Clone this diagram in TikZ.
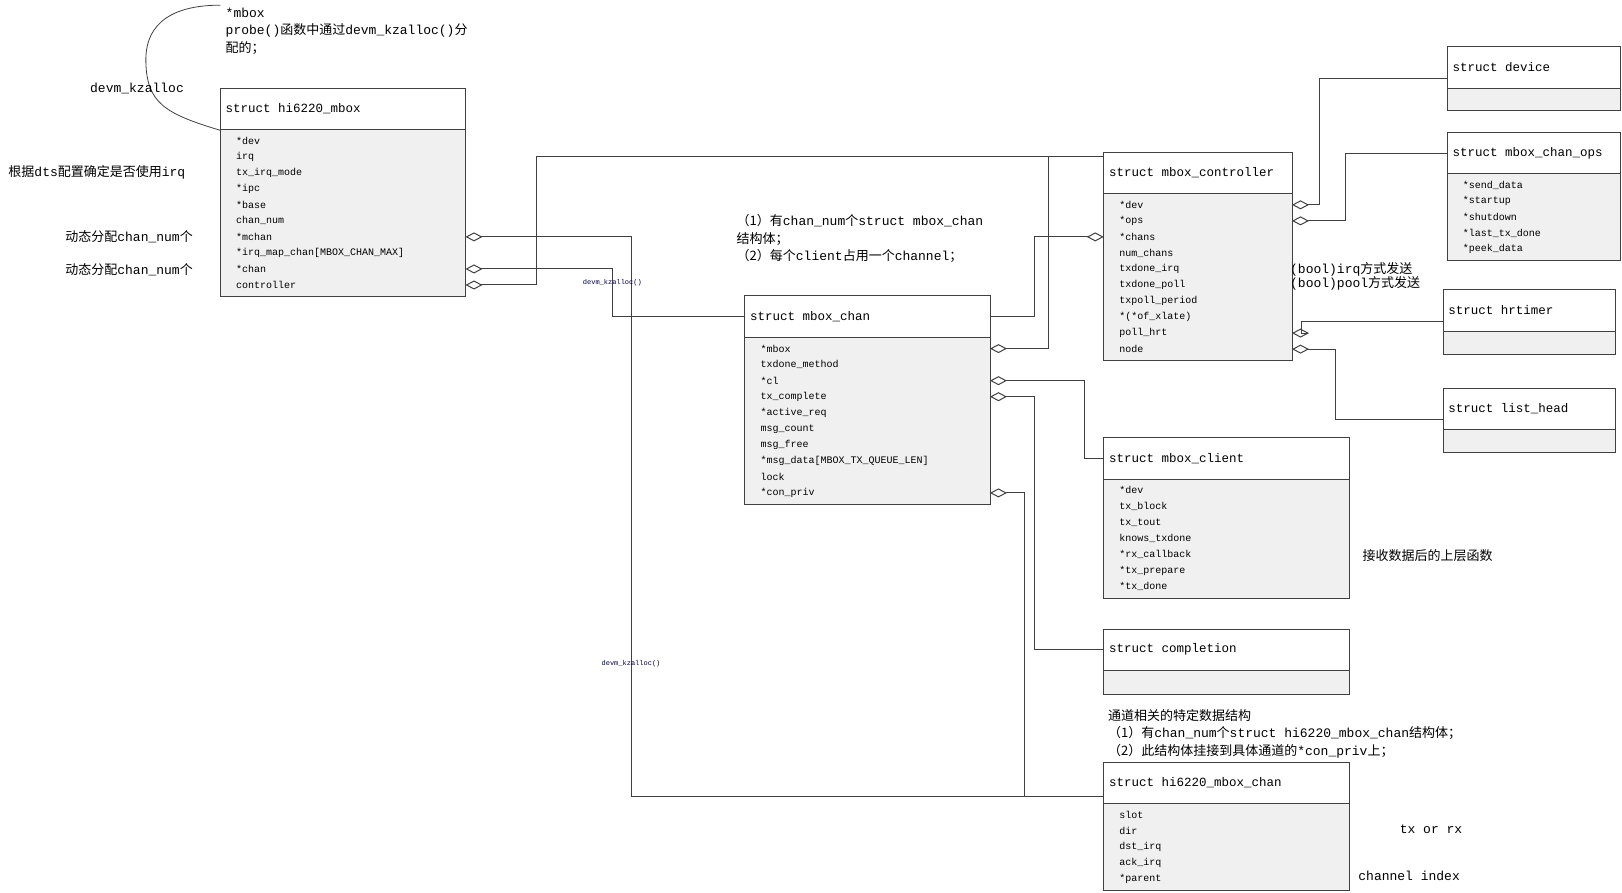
\documentclass[tikz,border=0pt]{standalone}
\usepackage{fontspec}
\setmainfont{Liberation Mono}
\newfontfamily\cjk{Noto Sans CJK SC}
\usetikzlibrary{arrows.meta,calc}

\tikzset{
  hdr/.style={draw=black!75, fill=white, line width=0.8pt},
  bdy/.style={draw=black!75, fill=black!6, line width=0.8pt},
  ttl/.style={anchor=west, font=\fontsize{12.5}{14}\selectfont, inner sep=0pt},
  mem/.style={anchor=west, font=\fontsize{10}{11}\selectfont, inner sep=0pt},
  note/.style={anchor=west, align=left, font=\fontsize{13}{17.5}\selectfont, inner sep=0pt},
  link/.style={draw=black!75, line width=1pt},
  has/.style={link, {Diamond[open,length=17pt,width=9pt]}-},
}

% name, left x, top y, width, body height, title, members
\newcommand\umlstruct[7]{%
  \draw[hdr] (#2,#3) rectangle ++(#4,40);
  \draw[bdy] (#2,#3+40) rectangle ++(#4,#5);
  \coordinate (#1-T) at (#2,#3+20);
  \coordinate (#1-TR) at (#2+#4,#3+20);
  \node[ttl] (#1) at (#2+5,#3+20) {#6};
  \foreach \m [count=\i] in {#7} {
    \node[mem] (#1-m\i) at (#2+15,#3+51+15.5*\i-15.5) {\m};
    \coordinate (#1-L\i) at (#2,#3+51+15.5*\i-15.5);
    \coordinate (#1-R\i) at (#2+#4,#3+51+15.5*\i-15.5);
  }
}

\begin{document}
\begin{tikzpicture}[x=1.0344pt,y=-1.0344pt]
\useasboundingbox (0,0) rectangle (1568,863);

\umlstruct{mb}{213}{85}{237}{162}{struct hi6220\_mbox}{*dev,irq,tx\_irq\_mode,*ipc,*base,chan\_num,*mchan,{*irq\_map\_chan[MBOX\_CHAN\_MAX]},*chan,controller}
\umlstruct{ctl}{1067}{147}{182}{161}{struct mbox\_controller}{*dev,*ops,*chans,num\_chans,txdone\_irq,txdone\_poll,txpoll\_period,*(*of\_xlate),poll\_hrt,node}
\umlstruct{ch}{720}{286}{237}{162}{struct mbox\_chan}{*mbox,txdone\_method,*cl,tx\_complete,*active\_req,msg\_count,msg\_free,{*msg\_data[MBOX\_TX\_QUEUE\_LEN]},lock,*con\_priv}
\umlstruct{cl}{1067}{423}{237}{115}{struct mbox\_client}{*dev,tx\_block,tx\_tout,knows\_txdone,*rx\_callback,*tx\_prepare,*tx\_done}
\umlstruct{cp}{1067}{608}{237}{23}{struct completion}{}
\umlstruct{hc}{1067}{737}{237}{84}{struct hi6220\_mbox\_chan}{slot,dir,dst\_irq,ack\_irq,*parent}
\umlstruct{dv}{1399}{45}{167}{22}{struct device}{}
\umlstruct{ops}{1399}{128}{167}{84}{struct mbox\_chan\_ops}{*send\_data,*startup,*shutdown,*last\_tx\_done,*peek\_data}
\umlstruct{hr}{1395}{280}{167}{23}{struct hrtimer}{}
\umlstruct{lh}{1395}{375}{167}{22}{struct list\_head}{}

% entry points and bends
\coordinate (hc-in) at (1067,770);
\coordinate (ctl-in) at (1067,151);
\coordinate (dv-in) at (1399,76);
\coordinate (hr-in) at (1395,311);
\coordinate (lh-in) at (1395,406);
\coordinate (v1) at (610,500);
\coordinate (v2) at (592,290);
\coordinate (v3) at (519,200);
\coordinate (v4) at (1000,260);
\coordinate (v5) at (1014,151);
\coordinate (v6) at (1048,400);
\coordinate (v7) at (1000,500);
\coordinate (v8) at (990,600);
\coordinate (v9) at (1276,120);
\coordinate (v10) at (1301,180);
\coordinate (v11) at (1258,316);
\coordinate (v12) at (1291,370);

\draw[has] (mb-R7) -| (v1) |- (hc-in);
\draw[has] (mb-R9) -| (v2) |- (ch-T);
\draw[has] (mb-R10) -| (v3) |- (ctl-in);
\draw[has] (ctl-L3) -| (v4) |- (ch-TR);
\draw[has] (ch-R1) -| (v5);
\draw[has] (ch-R3) -| (v6) |- (cl-T);
\draw[has] (ch-R4) -| (v7) |- (cp-T);
\draw[has] (ch-R10) -| (v8) |- (hc-in);
\draw[has] (ctl-R1) -| (v9) |- (dv-in);
\draw[has] (ctl-R2) -| (v10) |- (ops-T);
\draw[has] (ctl-R9) -| (v11) |- (hr-in);
\draw[has] (ctl-R10) -| (v12) |- (lh-in);

\node[font=\fontsize{7}{8}\selectfont, text=black!70!blue] (k1) at (592,273) {devm\_kzalloc()};
\node[font=\fontsize{7}{8}\selectfont, text=black!70!blue] (k2) at (610,642) {devm\_kzalloc()};

% notes
\coordinate (mb-SW) at (213,126);
\coordinate (n0) at (213,5);
\draw[black!75, line width=0.8pt] (mb-SW) .. controls (160,110) and (142,100) .. (141,60)
  .. controls (140,20) and (170,5) .. (n0);
\node[note] (n1) at (218,30) {*mbox\\probe(){\cjk 函数中通过}devm\_kzalloc(){\cjk 分}\\{\cjk 配的；}};
\node[note] (n2) at (87,86) {devm\_kzalloc};
\node[note] (n3) at (8,167) {{\cjk 根据}dts{\cjk 配置确定是否使用}irq};
\node[note] (n4) at (63,229) {{\cjk 动态分配}chan\_num{\cjk 个}};
\node[note] (n5) at (63,261) {{\cjk 动态分配}chan\_num{\cjk 个}};
\node[note] (n6) at (712,231) {{\cjk （1）有}chan\_num{\cjk 个}struct mbox\_chan\\{\cjk 结构体；}\\{\cjk （2）每个}client{\cjk 占用一个}channel{\cjk ；}};
\node[note, align=left, font=\fontsize{13}{13}\selectfont] (n7) at (1247,267) {(bool)irq{\cjk 方式发送}\\(bool)pool{\cjk 方式发送}};
\node[note] (n8) at (1317,537) {{\cjk 接收数据后的上层函数}};
\node[note] (n9) at (1071,709) {{\cjk 通道相关的特定数据结构}\\{\cjk （1）有}chan\_num{\cjk 个}struct hi6220\_mbox\_chan{\cjk 结构体；}\\{\cjk （2）此结构体挂接到具体通道的}*con\_priv{\cjk 上；}};
\node[note] (n10) at (1353,802) {tx or rx};
\node[note] (n11) at (1313,847) {channel index};
\end{tikzpicture}
\end{document}
